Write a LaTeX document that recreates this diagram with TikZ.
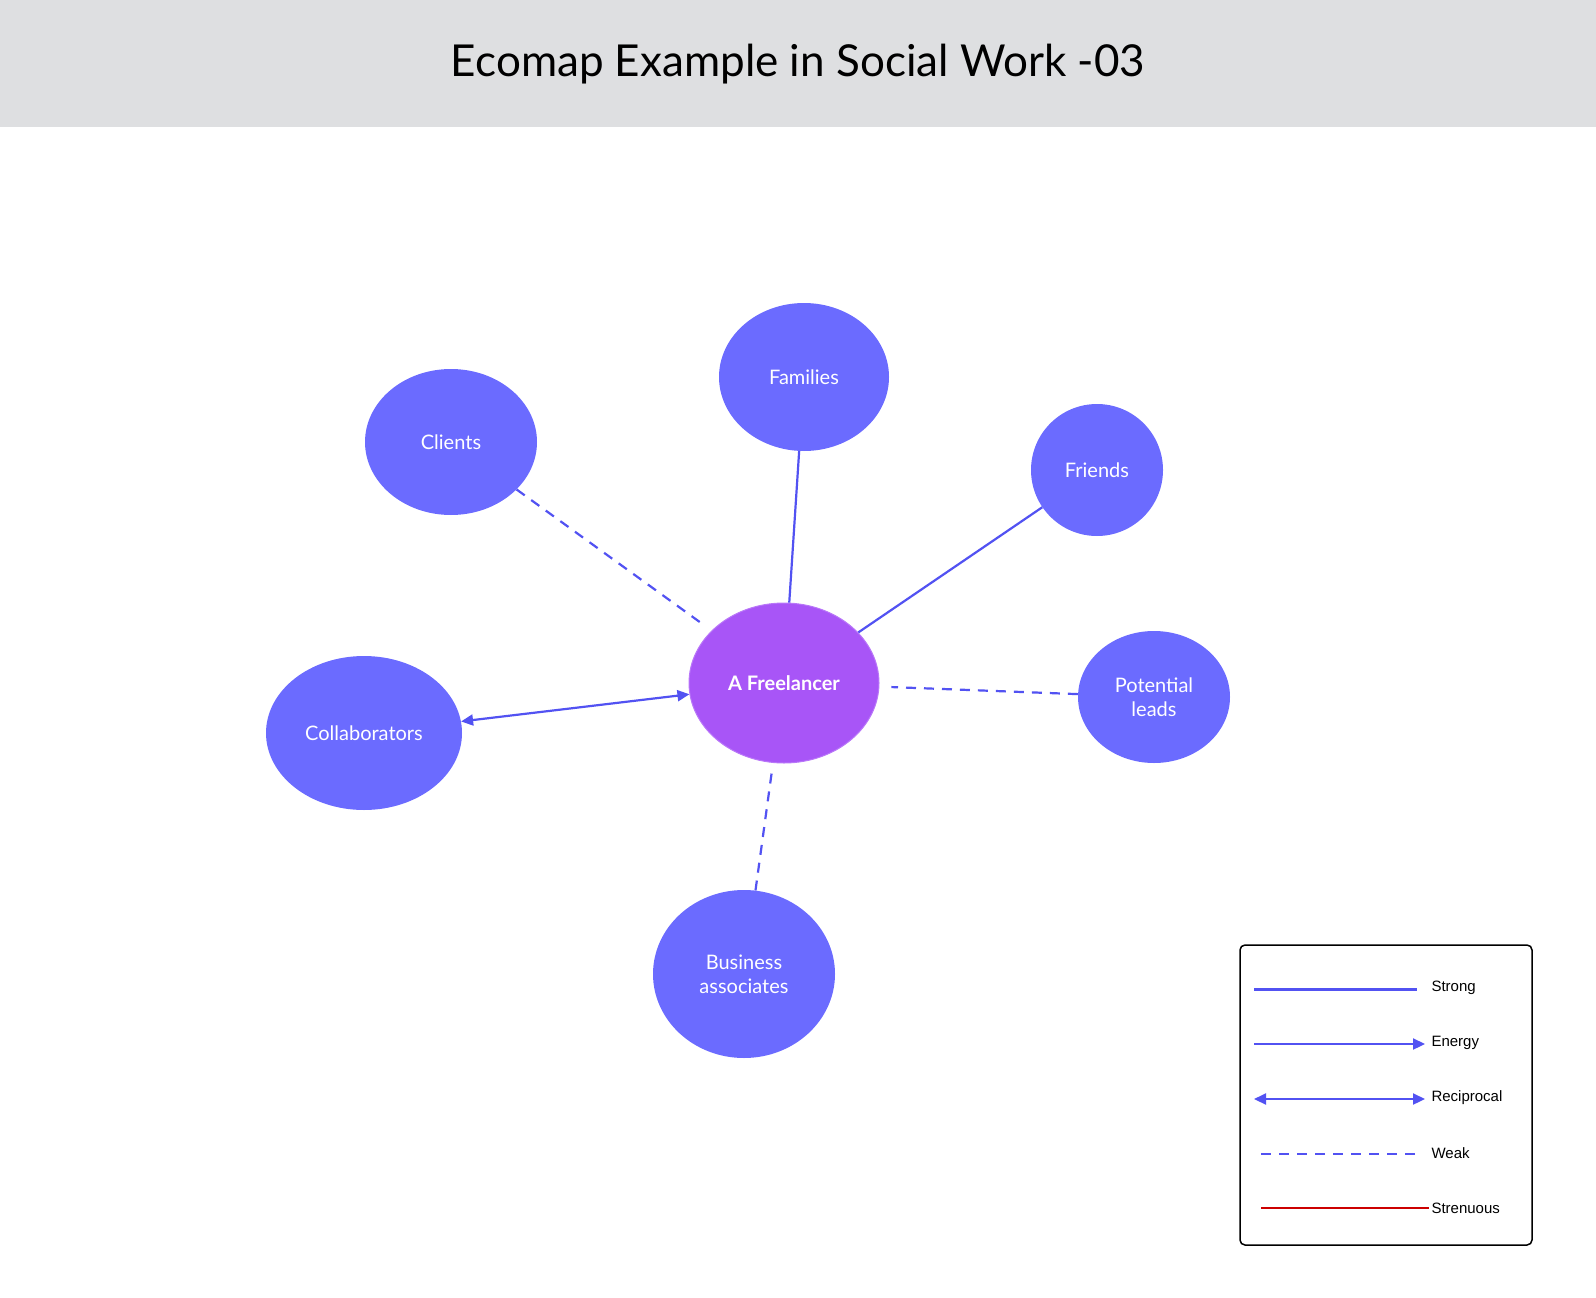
\documentclass[tikz,border=0pt]{standalone}
\usepackage{fontspec}
\setmainfont{Lato}
\newfontfamily\legfont{Liberation Sans}
\usetikzlibrary{shapes.geometric,arrows.meta}
\definecolor{nodeblue}{HTML}{6B6BFF}
\definecolor{lineblue}{HTML}{5252F2}
\definecolor{purp}{HTML}{A855F7}
\definecolor{hdr}{HTML}{DEDFE1}
\tikzset{
 ent/.style={ellipse,fill=nodeblue,inner sep=0pt,text=white,font=\fontsize{20}{24}\selectfont,align=center},
 strongl/.style={draw=lineblue,line width=3pt},
 lnk/.style={draw=lineblue,line width=2.2pt},
 weakl/.style={draw=lineblue,line width=2.2pt,dash pattern=on 10pt off 8pt},
 tip/.style={-{Triangle[length=12pt,width=11pt]}},
 legt/.style={anchor=west,font=\legfont\fontsize{15}{18}\selectfont}
}
\begin{document}
\begin{tikzpicture}[x=1pt,y=-1pt]
\useasboundingbox (0,0) rectangle (1596,1298);
\fill[hdr] (0,0) rectangle (1596,127);
\node (title) at (798,64) {\fontsize{44}{52}\selectfont Ecomap Example in Social Work -03};
\node[ent,minimum width=170pt,minimum height=148pt] (fam) at (804,377) {Families};
\node[ent,minimum width=172pt,minimum height=146pt] (cli) at (451,442) {Clients};
\node[ent,minimum width=132pt,minimum height=132pt] (fri) at (1097,470) {Friends};
\node[ent,minimum width=190pt,minimum height=160pt,fill=purp,draw=purp!80!white,line width=1pt,font=\bfseries\fontsize{20}{24}\selectfont] (fre) at (784,683) {A Freelancer};
\node[ent,minimum width=152pt,minimum height=132pt] (pot) at (1154,697) {Potential\\leads};
\node[ent,minimum width=196pt,minimum height=154pt] (col) at (364,733) {Collaborators};
\node[ent,minimum width=182pt,minimum height=168pt] (bus) at (744,974) {Business\\associates};
\draw[lnk] (fam) -- (fre);
\draw[lnk] (fri) -- (fre);
\draw[weakl,shorten >=8pt] (cli) -- (fre);
\draw[weakl,shorten >=12pt] (pot) -- (fre);
\draw[weakl,shorten >=6pt] (bus) -- (fre);
\draw[lnk,{Triangle[length=12pt,width=11pt]}-{Triangle[length=12pt,width=11pt]}] (col) -- (fre);
\draw[rounded corners=5pt,line width=1.5pt] (1240,945) rectangle (1532,1245);
\coordinate (a1) at (1254,989); \coordinate (b1) at (1417,989);
\draw[strongl] (a1) -- (b1); \node[legt] (l1) at (1428,988) {Strong};
\coordinate (a2) at (1254,1044); \coordinate (b2) at (1425,1044);
\draw[lnk,tip] (a2) -- (b2); \node[legt] (l2) at (1428,1043) {Energy};
\coordinate (a3) at (1254,1099); \coordinate (b3) at (1425,1099);
\draw[lnk,{Triangle[length=12pt,width=11pt]}-{Triangle[length=12pt,width=11pt]}] (a3) -- (b3); \node[legt] (l3) at (1428,1098) {Reciprocal};
\coordinate (a4) at (1261,1154); \coordinate (b4) at (1421,1154);
\draw[weakl,line width=1.8pt] (a4) -- (b4); \node[legt] (l4) at (1428,1153) {Weak};
\coordinate (a5) at (1261,1208); \coordinate (b5) at (1429,1208);
\draw[red!80!black,line width=2pt] (a5) -- (b5); \node[legt] (l5) at (1428,1208) {Strenuous};
\end{tikzpicture}
\end{document}
